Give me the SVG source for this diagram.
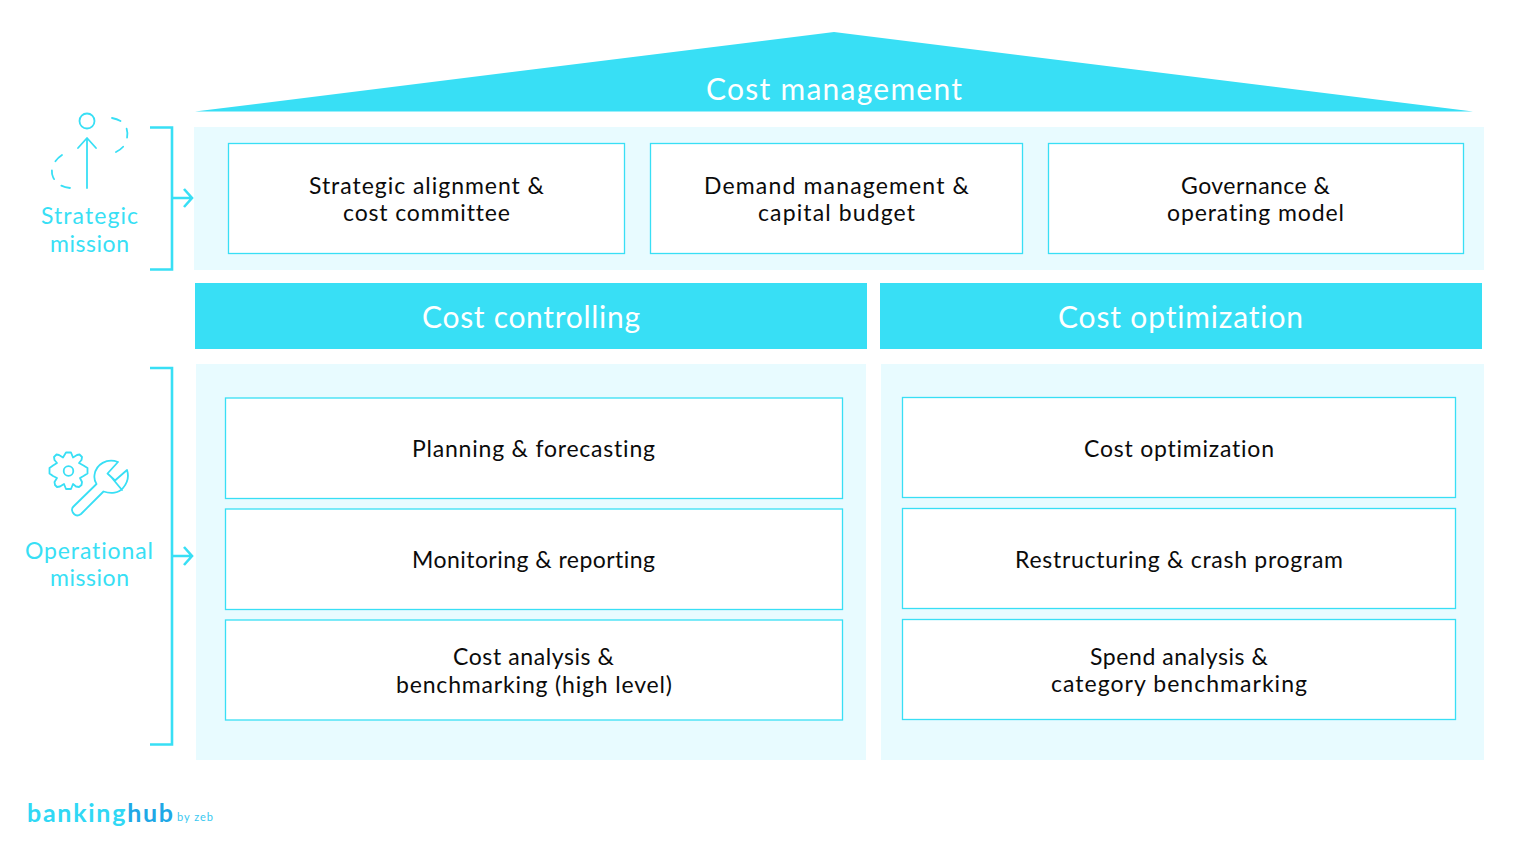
<svg xmlns="http://www.w3.org/2000/svg" width="1536" height="848" viewBox="0 0 1536 848">
<style>
text{font-family:"Lato","Liberation Sans",sans-serif;text-anchor:middle;font-variant-ligatures:none}
.t{font-size:23px;fill:#0b0b0b}
.h{font-size:30px;fill:#fff}
.m{font-size:23px;fill:#38dff5}
.bg{fill:#e8fbff}
.band{fill:#38dff5}
.box{fill:#fff;stroke:#38dff5;stroke-width:1.3}
.ln{fill:none;stroke:#38dff5;stroke-width:2.6}
.ic{fill:none;stroke:#38dff5;stroke-width:1.8;stroke-linejoin:round;stroke-linecap:round}
.ds{stroke-dasharray:9 10}
</style>
<rect width="1536" height="848" fill="#fff"/>
<g id="backgrounds">
<rect class="bg" x="194" y="127" width="1290" height="143"/>
<rect class="bg" x="196" y="364" width="670" height="396"/>
<rect class="bg" x="881" y="364" width="603" height="396"/>
</g>
<g id="cost-management"><path class="band" d="M195 111.500L834 32L1473 111.500Z"/><text class="h" x="834" y="100" textLength="256">Cost management</text></g>
<g id="cost-controlling"><rect class="band" x="195" y="283" width="672" height="66"/><text class="h" x="531" y="328" textLength="218">Cost controlling</text></g>
<g id="cost-optimization-header"><rect class="band" x="880" y="283" width="602" height="66"/><text class="h" x="1180.500" y="328" textLength="245">Cost optimization</text></g>
<g id="strategic-alignment"><rect class="box" x="228.500" y="143.500" width="396" height="110"/><text class="t" x="426.500" y="194" textLength="235">Strategic alignment &amp;</text><text class="t" x="426.500" y="221" textLength="167">cost committee</text></g>
<g id="demand-management"><rect class="box" x="650.500" y="143.500" width="372" height="110"/><text class="t" x="836.500" y="193.500" textLength="265">Demand management &amp;</text><text class="t" x="836.500" y="221" textLength="157">capital budget</text></g>
<g id="governance"><rect class="box" x="1048.500" y="143.500" width="415" height="110"/><text class="t" x="1255.500" y="193.500" textLength="149">Governance &amp;</text><text class="t" x="1255.500" y="221" textLength="177">operating model</text></g>
<g id="planning"><rect class="box" x="225.500" y="398" width="617" height="100.500"/><text class="t" x="533.500" y="457" textLength="243">Planning &amp; forecasting</text></g>
<g id="monitoring"><rect class="box" x="225.500" y="509" width="617" height="100.500"/><text class="t" x="533.500" y="568" textLength="243">Monitoring &amp; reporting</text></g>
<g id="cost-analysis"><rect class="box" x="225.500" y="620" width="617" height="100"/><text class="t" x="533.500" y="665" textLength="161">Cost analysis &amp;</text><text class="t" x="534" y="692.500" textLength="276">benchmarking (high level)</text></g>
<g id="cost-optimization"><rect class="box" x="902.500" y="397.500" width="553" height="100"/><text class="t" x="1179" y="456.500" textLength="190">Cost optimization</text></g>
<g id="restructuring"><rect class="box" x="902.500" y="508.500" width="553" height="100"/><text class="t" x="1179" y="567.500" textLength="328">Restructuring &amp; crash program</text></g>
<g id="spend-analysis"><rect class="box" x="902.500" y="619.500" width="553" height="100"/><text class="t" x="1179" y="665" textLength="178">Spend analysis &amp;</text><text class="t" x="1179" y="692" textLength="256">category benchmarking</text></g>
<g id="strategic-mission">
<circle class="ic" cx="87" cy="121" r="7.500"/>
<path class="ic" d="M87 188V139M78 148L87 138L96 148"/>
<path class="ic ds" d="M112 118C124 120 129 128 127 138C126 145 122 149 116 152"/>
<path class="ic ds" d="M62 155C53 161 50 170 53 177C56 184 62 187 70 188"/>
<text class="m" x="89.500" y="224" textLength="97">Strategic</text><text class="m" x="89.500" y="252" textLength="79">mission</text>
</g>
<g id="operational-mission">
<path class="ic" d="M66 452.500L71 452.500L73 457.500L77 455L79.500 454.500L82 457L81.500 460L79 463L83.500 465.500L87.500 468V473.500L83.500 476L80 478L82 482L81.500 485L79 487L76 486.500L73 484L71 489H66L64 484L60 486.500L57 487L55 485L54.500 482L57 478L53 476L49.500 473.500V468L53 465.500L57 463L54.500 460L54 457L56.500 454.500L59 455L63 457.500Z"/>
<circle class="ic" cx="68.500" cy="471" r="4.800"/>
<path class="ic" d="M118 462C107 458 96 464 94.500 475C94 479 95 482 96.500 484L73.500 506.500C71 509 72 512 74 514C76 516 79 515.500 81 514L103.500 491.500C111 494 119 493 123 488C128 482 129 476 127 470L115 480.500L107.500 473.500ZM112 478L122 490"/>
<text class="m" x="89" y="558.500" textLength="128">Operational</text><text class="m" x="89.500" y="586" textLength="79">mission</text>
</g>
<g id="connectors">
<path class="ln" d="M150 127.500H172V269.500H150M172 198H191M184 189L192 198L184 207"/>
<path class="ln" d="M150 368H172V744.500H150M172 556H191M184 547L192 556L184 565"/>
</g>
<g id="logo">
<text x="27" y="822" style="text-anchor:start;font-size:25px;font-weight:700" fill="#30d8f5" textLength="146">banking<tspan fill="#1fa8e6">hub</tspan></text>
<text x="177" y="821" style="text-anchor:start;font-size:11px" fill="#38c8f0" textLength="36">by zeb</text>
</g>
</svg>
